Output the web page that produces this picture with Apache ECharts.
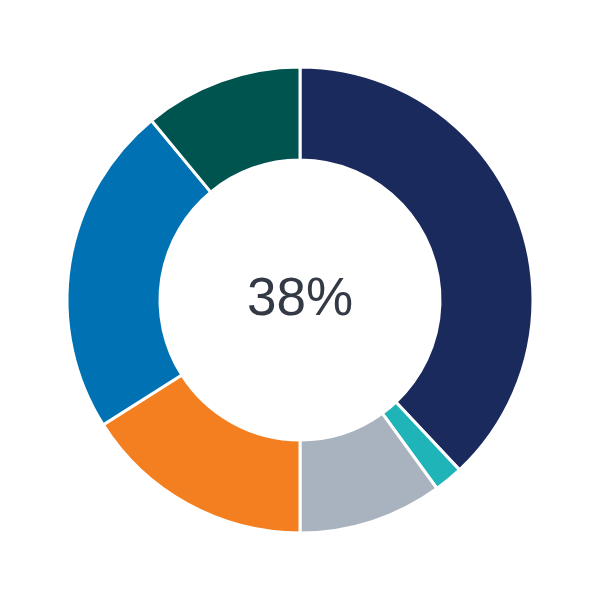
<!DOCTYPE html>
<html>
<head>
<meta charset="utf-8">
<script src="https://cdn.jsdelivr.net/npm/echarts@6/dist/echarts.min.js"></script>
<style>
  html, body { margin: 0; padding: 0; background: #fff; }
  #chart { width: 600px; height: 600px; }
</style>
</head>
<body>
<div id="chart"></div>
<script>
const segmentNames = ['A', 'B', 'C', 'D', 'E', 'F'];
const segmentValues = [38, 2, 10, 16, 23, 11];
const segmentColors = ['#1b2a5c', '#1fb5b8', '#a9b3c0', '#f37f20', '#0072b3', '#00544f'];
const centerLabel = '38%';

const chart = echarts.init(document.getElementById('chart'), null, { renderer: 'canvas' });

chart.setOption({
  backgroundColor: '#fff',
  animation: false,
  title: {
    text: centerLabel,
    left: 'center',
    top: 'middle',
    textStyle: {
      fontFamily: 'Liberation Sans, Arial, sans-serif',
      fontSize: 53,
      fontWeight: 'normal',
      color: '#333a45',
    },
  },
  series: [{
    type: 'pie',
    center: ['50%', '50%'],
    radius: [140, 233],
    startAngle: 90,
    clockwise: true,
    label: { show: false },
    labelLine: { show: false },
    itemStyle: { borderColor: '#fff', borderWidth: 3 },
    data: segmentNames.map((n, i) => ({
      name: n,
      value: segmentValues[i],
      itemStyle: { color: segmentColors[i] },
    })),
  }],
});
</script>
</body>
</html>
